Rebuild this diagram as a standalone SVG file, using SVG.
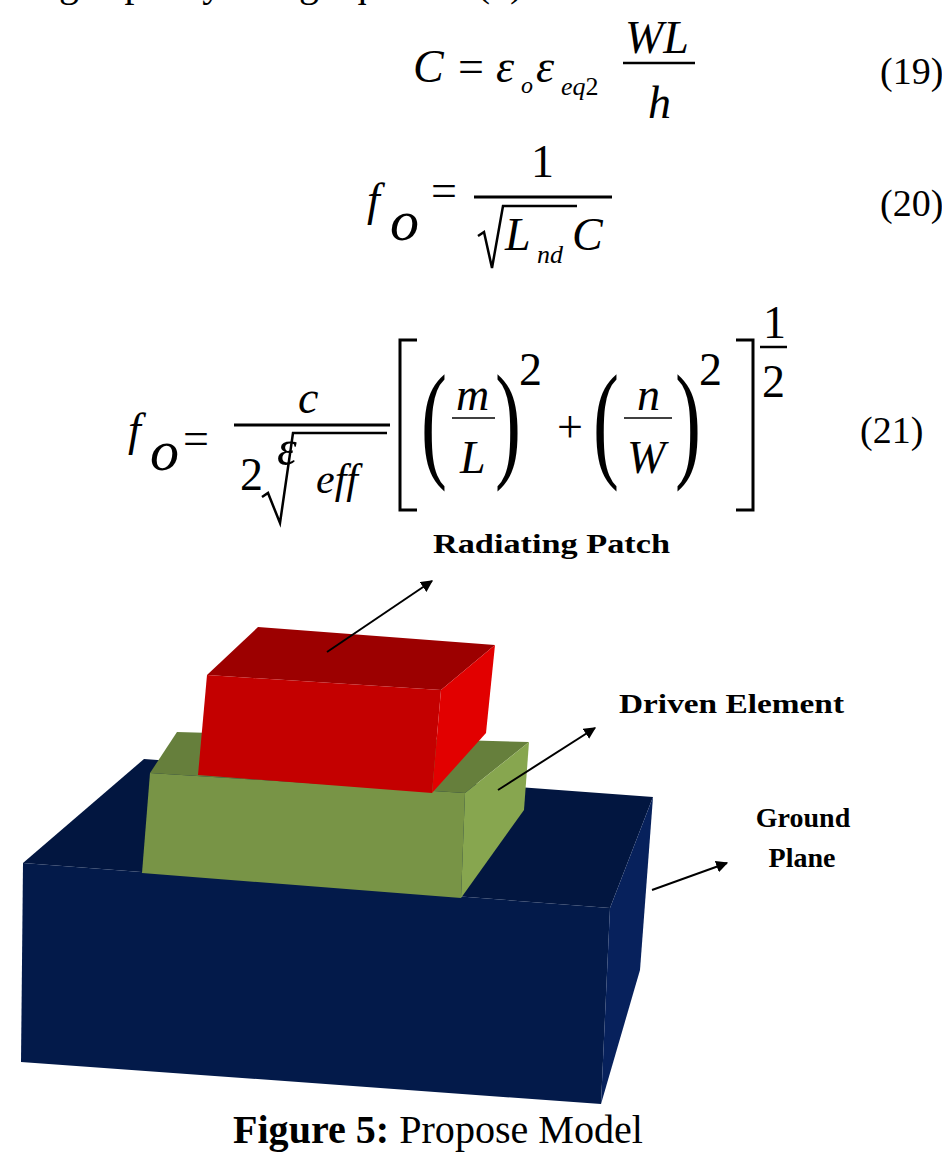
<svg xmlns="http://www.w3.org/2000/svg" width="942" height="1154" viewBox="0 0 942 1154">
<defs>
<style>
text{font-family:"Liberation Serif","Times New Roman",serif;fill:#000}
.i{font-family:"Liberation Serif","DejaVu Serif",serif;font-style:italic}
.lbl{font-weight:bold}
.ln{stroke:#000;fill:none}
.arr{stroke:#000;stroke-width:2;fill:none;marker-end:url(#ah)}
</style>
<marker id="ah" viewBox="0 0 10 10" refX="9" refY="5" markerWidth="6" markerHeight="6" orient="auto" markerUnits="strokeWidth">
<path d="M0,0 L10,5 L0,10 z" fill="#000"/>
</marker>
</defs>
<rect width="942" height="1154" fill="#fff"/>
<text x="28" y="-4" font-size="40">ing capacity using equation (4)</text>

<g id="eq19" font-size="46">
<text x="413" y="82" class="i">C</text>
<text x="458" y="82" font-size="46">=</text>
<text x="496" y="82" class="i" font-size="46">ε</text>
<text x="521" y="93" class="i" font-size="24">o</text>
<text x="536" y="82" class="i" font-size="46">ε</text>
<text x="561" y="95" font-size="26"><tspan class="i">eq</tspan>2</text>
<text x="625" y="53" class="i">WL</text>
<line class="ln" x1="623" y1="63" x2="695" y2="63" stroke-width="2.5"/>
<text x="648" y="118" class="i">h</text>
<text x="880" y="84" font-size="38">(19)</text>
</g>

<g id="eq20" font-size="46">
<text x="367" y="215" class="i">f</text>
<text x="390" y="240" class="i" font-size="58">o</text>
<text x="431" y="206">=</text>
<text x="531" y="177">1</text>
<line class="ln" x1="474" y1="197" x2="612" y2="197" stroke-width="3"/>
<path class="ln" stroke-width="2.5" d="M478,236 L484,232 L492,268 L503,206 L577,206"/>
<text x="505" y="250" class="i">L</text>
<text x="537" y="263" class="i" font-size="26">nd</text>
<text x="572" y="250" class="i">C</text>
<text x="880" y="216" font-size="38">(20)</text>
</g>

<g id="eq21" font-size="46">
<text x="128" y="445" class="i">f</text>
<text x="150" y="470" class="i" font-size="58">o</text>
<text x="183" y="454">=</text>
<text x="298" y="413" class="i">c</text>
<line class="ln" x1="234" y1="425" x2="390" y2="425" stroke-width="3"/>
<text x="240" y="490">2</text>
<path class="ln" stroke-width="2.5" d="M262,497 L268,493 L280,523 L293,433 L387,433"/>
<text x="277" y="465" class="i" font-size="50">ε</text>
<text x="316" y="493" class="i" font-size="42">eff</text>
<path class="ln" stroke-width="3" d="M417,340 H400 V510 H417"/>
<text transform="translate(421,464) scale(0.6,1)" font-size="130">(</text>
<text x="456" y="410" class="i">m</text>
<line class="ln" x1="452" y1="418" x2="495" y2="418" stroke-width="1.5"/>
<text x="460" y="473" class="i">L</text>
<text transform="translate(495,464) scale(0.6,1)" font-size="130">)</text>
<text x="519" y="385">2</text>
<text x="557" y="442">+</text>
<text transform="translate(593,464) scale(0.6,1)" font-size="130">(</text>
<text x="637" y="410" class="i">n</text>
<line class="ln" x1="624" y1="418" x2="672" y2="418" stroke-width="1.5"/>
<text x="627" y="473" class="i">W</text>
<text transform="translate(675,464) scale(0.6,1)" font-size="130">)</text>
<text x="699" y="385">2</text>
<path class="ln" stroke-width="3" d="M736,340 H753 V510 H736"/>
<text x="763" y="338">1</text>
<line class="ln" x1="760" y1="347" x2="787" y2="347" stroke-width="2.5"/>
<text x="762" y="397">2</text>
<text x="860" y="443" font-size="38">(21)</text>
</g>

<g id="ground-plane">
<polygon points="144,759 653,797 610,908 23,863" fill="#021640"/>
<polygon points="23,863 610,908 601,1104 21,1062" fill="#031a4a"/>
<polygon points="610,908 653,797 640,970 601,1104" fill="#07215c"/>
</g>
<g id="driven-element">
<polygon points="177,732 529,742 465,793 150,773" fill="#667f3c"/>
<polygon points="150,773 465,793 461,898 142,873" fill="#789446"/>
<polygon points="465,793 529,742 524,810 461,898" fill="#87a64f"/>
</g>
<g id="radiating-patch">
<polygon points="258,627 495,645 441,690 207,675" fill="#9c0000"/>
<polygon points="207,675 441,690 432,793 198,775" fill="#c40000"/>
<polygon points="441,690 495,645 486,733 432,793" fill="#e20000"/>
</g>

<g id="connectors">
<line class="arr" x1="327" y1="652" x2="432" y2="581"/>
<line class="arr" x1="498" y1="790" x2="595" y2="728"/>
<line class="arr" x1="652" y1="890" x2="727" y2="863"/>
</g>

<g id="labels" class="lbl" font-size="28">
<text x="433" y="553" textLength="237" lengthAdjust="spacingAndGlyphs">Radiating Patch</text>
<text x="619" y="713" textLength="225" lengthAdjust="spacingAndGlyphs">Driven Element</text>
<text x="803" y="827" text-anchor="middle">Ground</text>
<text x="802" y="867" text-anchor="middle">Plane</text>
</g>

<text x="233" y="1143" font-size="40" textLength="410" lengthAdjust="spacingAndGlyphs"><tspan font-weight="bold">Figure 5:</tspan> Propose Model</text>
</svg>
